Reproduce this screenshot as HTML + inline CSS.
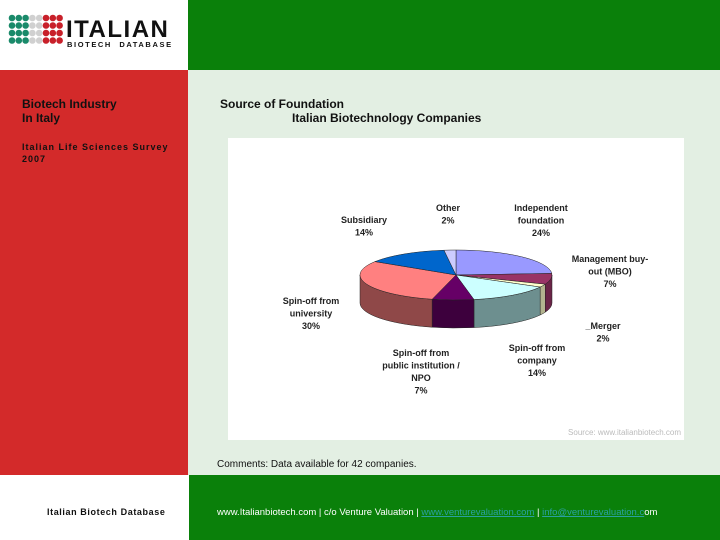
<!DOCTYPE html>
<html><head><meta charset="utf-8"><style>
body{margin:0;width:720px;height:540px;position:relative;overflow:hidden;background:#fff;font-family:"Liberation Sans",sans-serif}
div{position:absolute}
.b{font-weight:bold}
</style></head><body>
<div style="left:0;top:0;width:188px;height:70px;background:#fff">
  <svg width="60" height="40" style="position:absolute;left:8px;top:14px">
    <g id="dots"></g>
  </svg>
  <div class="b" style="left:66px;top:19px;font-size:24px;letter-spacing:1.5px;color:#111;line-height:22px">ITALIAN</div>
  <div class="b" style="left:67px;top:40px;font-size:7.5px;letter-spacing:1.6px;color:#111">BIOTECH&nbsp; DATABASE</div>
</div>
<div style="left:188px;top:0;width:532px;height:70px;background:#0a800a"></div>
<div style="left:0;top:70px;width:188px;height:405px;background:#d32a2a"></div>
<div style="left:188px;top:70px;width:532px;height:405px;background:#e3efe3"></div>
<div class="b" style="left:22px;top:97px;font-size:12px;line-height:14px;color:#111">Biotech Industry<br>In Italy</div>
<div class="b" style="left:22px;top:141px;font-size:9px;line-height:12px;letter-spacing:1px;color:#111">Italian Life Sciences Survey<br>2007</div>
<div class="b" style="left:220px;top:97px;font-size:12px;line-height:14px;color:#111">Source of Foundation<br><span style="padding-left:72px">Italian Biotechnology Companies</span></div>
<div style="left:228px;top:138px;width:456px;height:302px;background:#fff"></div>
<svg width="720" height="540" style="position:absolute;left:0;top:0">
  <g id="pie"></g>
  <g id="labels" font-family="Liberation Sans, sans-serif" font-size="9" font-weight="bold" fill="#222" text-anchor="middle"></g>
  <text x="681" y="435" font-size="8" fill="#bbb" text-anchor="end">Source: www.italianbiotech.com</text>
</svg>
<div style="left:217px;top:459px;font-size:10px;color:#111">Comments: Data available for 42 companies.</div>
<div style="left:189px;top:475px;width:531px;height:65px;background:#0a800a"></div>
<div class="b" style="left:47px;top:507px;font-size:9px;letter-spacing:0.6px;color:#111">Italian Biotech Database</div>
<div style="left:217px;top:507px;font-size:9.5px;color:#fff;white-space:nowrap">www.Italianbiotech.com | c/o Venture Valuation | <span style="color:#2aa0a0;text-decoration:underline">www.venturevaluation.com</span> | <span style="color:#2aa0a0;text-decoration:underline">info@venturevaluation.c</span>om</div>
<script>
const categories=["Independent foundation","Management buy-out (MBO)","Merger","Spin-off from company","Spin-off from public institution / NPO","Spin-off from university","Subsidiary","Other"];
const values=[24,7,2,14,7,30,14,2];
const topColors=["#9999ff","#993366","#ffffcc","#ccffff","#660066","#ff8080","#0066cc","#ccccff"];
const sideColors=["#6b6bb3","#6b2447","#b3b38f","#6d8f8f","#3d003d","#8f4848","#004d99","#8f8fb3"];
const labelLines=[["Independent","foundation","24%"],["Management buy-","out (MBO)","7%"],["_Merger","2%"],["Spin-off from","company","14%"],["Spin-off from","public institution /","NPO","7%"],["Spin-off from","university","30%"],["Subsidiary","14%"],["Other","2%"]];
const labelPos=[[541,211],[610,262],[603,329],[537,351],[421,356],[311,304],[364,223],[448,211]];
const NS="http://www.w3.org/2000/svg";
const cx=456,cy=275,rx=96,ry=25,depth=28;
const total=values.reduce((a,b)=>a+b,0);
function pt(a,dy){return [cx+rx*Math.sin(a),cy-ry*Math.cos(a)+(dy||0)];}
const pie=document.getElementById('pie');
let angles=[],acc=0;
values.forEach(v=>{const a0=acc/total*2*Math.PI;acc+=v;angles.push([a0,acc/total*2*Math.PI]);});
angles.forEach(([a0,a1],i)=>{
  const s=Math.max(a0,Math.PI/2),e=Math.min(a1,3*Math.PI/2);
  if(e<=s)return;
  const p0=pt(s),p1=pt(e),q1=pt(e,depth),q0=pt(s,depth);
  const p=document.createElementNS(NS,'path');
  p.setAttribute('d',`M${p0} A${rx},${ry} 0 0 1 ${p1} L${q1} A${rx},${ry} 0 0 0 ${q0} Z`);
  p.setAttribute('fill',sideColors[i]);p.setAttribute('stroke','#222');p.setAttribute('stroke-width','0.5');
  
  
  pie.appendChild(p);
});
angles.forEach(([a0,a1],i)=>{
  const p0=pt(a0),p1=pt(a1),large=(a1-a0)>Math.PI?1:0;
  const p=document.createElementNS(NS,'path');
  p.setAttribute('d',`M${cx},${cy} L${p0} A${rx},${ry} 0 ${large} 1 ${p1} Z`);
  p.setAttribute('fill',topColors[i]);p.setAttribute('stroke','#222');p.setAttribute('stroke-width','0.5');
  
  
  pie.appendChild(p);
});
const lg=document.getElementById('labels');
labelLines.forEach((lines,i)=>{
  const t=document.createElementNS(NS,'text');
  t.setAttribute('x',labelPos[i][0]);t.setAttribute('y',labelPos[i][1]);
  
  
  lines.forEach((l,j)=>{const s=document.createElementNS(NS,'tspan');s.setAttribute('x',labelPos[i][0]);s.setAttribute('dy',j?12.5:0);s.textContent=l;t.appendChild(s);});
  lg.appendChild(t);
});
const dots=document.getElementById('dots');
for(let c=0;c<8;c++)for(let r=0;r<4;r++){
  const d=document.createElementNS(NS,'circle');
  d.setAttribute('cx',4+c*6.8);d.setAttribute('cy',4+r*7.5);d.setAttribute('r',3.3);
  d.setAttribute('fill',c<3?"#1a8a6a":c<5?"#d0d0d0":"#c8202a");
  
  
  dots.appendChild(d);
}
</script>
</body></html>
